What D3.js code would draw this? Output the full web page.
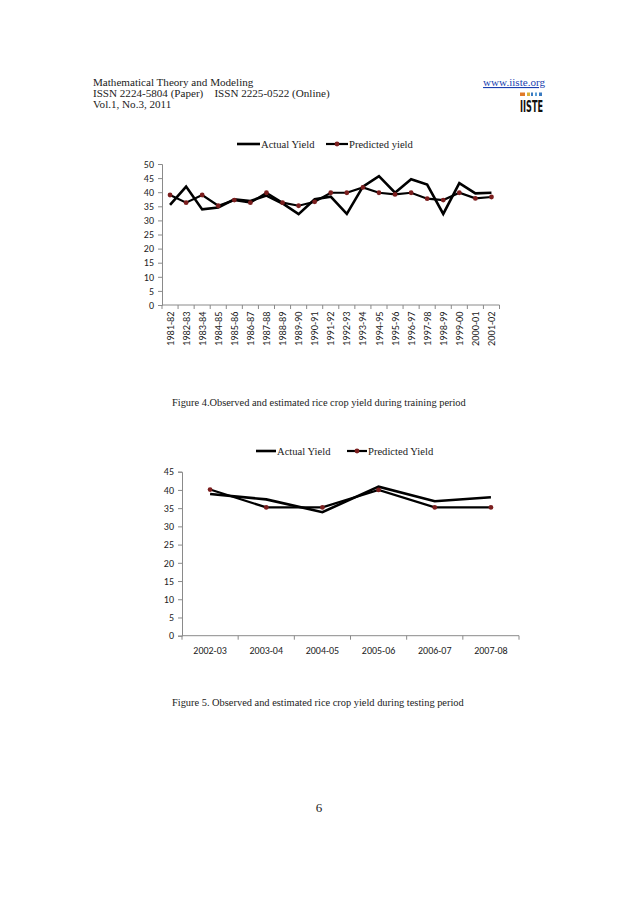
<!DOCTYPE html>
<html><head><meta charset="utf-8">
<script src="https://cdn.jsdelivr.net/npm/d3@7"></script>
<style>body{margin:0;background:#fff}svg{display:block}</style>
</head><body>
<script>
const trainCats = ["1981-82","1982-83","1983-84","1984-85","1985-86","1986-87","1987-88","1988-89","1989-90","1990-91","1991-92","1992-93","1993-94","1994-95","1995-96","1996-97","1997-98","1998-99","1999-00","2000-01","2001-02"];
const trainActual = [35.5,42.0,33.9,34.6,37.5,36.9,38.8,36.0,32.2,37.5,38.4,32.3,42.0,45.7,39.8,44.6,42.7,32.3,43.2,39.6,39.8];
const trainPredicted = [39.0,36.3,39.0,35.2,37.2,36.3,39.8,36.3,35.2,36.6,39.8,39.8,41.7,39.8,39.2,39.8,37.7,37.2,39.8,37.8,38.3];
const trainTicks = [0,5,10,15,20,25,30,35,40,45,50];

const testCats = ["2002-03","2003-04","2004-05","2005-06","2006-07","2007-08"];
const testActual = [38.9,37.4,33.9,40.9,36.9,38.0];
const testPredicted = [40.1,35.2,35.2,40.0,35.2,35.2];
const testTicks = [0,5,10,15,20,25,30,35,40,45];

const W = 638, H = 903;
const svg = d3.select("body").append("svg").attr("width", W).attr("height", H);
const serif = "'Liberation Serif','Times New Roman',serif";
const sans = "Carlito,Lato,'Open Sans',sans-serif";
const markerColor = "#7b1e1e";

// Header
const hdr = ["Mathematical Theory and Modeling","ISSN 2224-5804 (Paper)    ISSN 2225-0522 (Online)","Vol.1, No.3, 2011"];
hdr.forEach((t,i)=>svg.append("text").attr("x",93).attr("y",86+i*11).attr("font-family",serif).attr("font-size",11.1).attr("fill","#222").attr("xml:space","preserve").style("white-space","pre").text(t));
svg.append("text").attr("x",545).attr("y",86).attr("text-anchor","end").attr("font-family",serif).attr("font-size",11.1).attr("fill","#1a3fb0").attr("text-decoration","underline").text("www.iiste.org");
// logo
const logoCols = ["#e07a2a","#d9b23a","#3a7ac0","#5aa0d8","#3a7ac0"];
[[520,5],[527,3],[531,2],[535,2],[539,3]].forEach((d,i)=>svg.append("rect").attr("x",d[0]).attr("y",92.5).attr("width",d[1]).attr("height",3.5).attr("fill",logoCols[i]));
svg.append("text").attr("x",520).attr("y",112).attr("textLength",23).attr("lengthAdjust","spacingAndGlyphs").attr("font-family","'DejaVu Sans Condensed','Liberation Sans Narrow',sans-serif").attr("font-weight","bold").attr("font-size",15).attr("fill","#111").text("IISTE");

function chart(opt){
  const x = d3.scaleBand().domain(opt.cats).range([opt.x0,opt.x1]);
  const y = d3.scaleLinear().domain([0,opt.ymax]).range([opt.y0,opt.y1]);
  const g = svg.append("g");
  const ya = d3.axisLeft(y).tickValues(opt.ticks).tickSize(4).tickPadding(4);
  const gy = g.append("g").attr("transform",`translate(${opt.x0},0)`).call(ya);
  gy.select(".domain").attr("stroke","#8a8a8a");
  gy.selectAll(".tick line").attr("stroke","#8a8a8a");
  gy.selectAll("text").attr("font-family",sans).attr("font-size",opt.fs).attr("fill","#222");
  // x axis
  const gx = g.append("g").attr("transform",`translate(0,${opt.y0})`);
  gx.append("line").attr("x1",opt.x0).attr("x2",opt.x1).attr("stroke","#8a8a8a");
  const bounds = opt.cats.map(c=>x(c)).concat([opt.x1]);
  gx.selectAll("line.tk").data(bounds).enter().append("line").attr("class","tk")
    .attr("x1",d=>d).attr("x2",d=>d).attr("y1",0).attr("y2",4).attr("stroke","#8a8a8a");
  if(opt.rot){
    gx.selectAll("text").data(opt.cats).enter().append("text")
      .attr("transform",c=>`translate(${x(c)+x.bandwidth()/2+3.6},6.5) rotate(-90)`)
      .attr("text-anchor","end").attr("font-family",sans).attr("font-size",opt.fs+0.3).attr("fill","#222").text(c=>c);
  } else {
    gx.selectAll("text").data(opt.cats).enter().append("text")
      .attr("x",c=>x(c)+x.bandwidth()/2).attr("y",18).attr("text-anchor","middle")
      .attr("font-family",sans).attr("font-size",opt.fs).attr("fill","#222").text(c=>c);
  }
  const cx = c=>x(c)+x.bandwidth()/2;
  const line = d3.line().x((d,i)=>cx(opt.cats[i])).y(d=>y(d));
  g.append("path").datum(opt.actual).attr("d",line).attr("fill","none").attr("stroke","#000").attr("stroke-width",2.6).attr("stroke-linejoin","miter");
  g.append("path").datum(opt.pred).attr("d",line).attr("fill","none").attr("stroke","#000").attr("stroke-width",2.2);
  g.selectAll("circle.p").data(opt.pred).enter().append("circle").attr("class","p")
    .attr("cx",(d,i)=>cx(opt.cats[i])).attr("cy",d=>y(d)).attr("r",2.4).attr("fill",markerColor);
  // legend
  const L = opt.leg;
  g.append("line").attr("x1",L.a0).attr("x2",L.a1).attr("y1",L.y).attr("y2",L.y).attr("stroke","#000").attr("stroke-width",2.6);
  g.append("text").attr("x",L.a1+1).attr("y",L.y+3.5).attr("font-family",serif).attr("font-size",10.6).attr("fill","#222").text("Actual Yield");
  g.append("line").attr("x1",L.p0).attr("x2",L.p1).attr("y1",L.y).attr("y2",L.y).attr("stroke","#000").attr("stroke-width",2.2);
  g.append("circle").attr("cx",(L.p0+L.p1)/2).attr("cy",L.y).attr("r",2.4).attr("fill",markerColor);
  g.append("text").attr("x",L.p1+1).attr("y",L.y+3.5).attr("font-family",serif).attr("font-size",10.6).attr("fill","#222").text(L.ptext);
}

chart({cats:trainCats,actual:trainActual,pred:trainPredicted,ticks:trainTicks,ymax:50,
  x0:162,x1:499.5,y0:305,y1:164,fs:10,rot:true,
  leg:{y:144,a0:237,a1:260,p0:326,p1:348,ptext:"Predicted yield"}});
chart({cats:testCats,actual:testActual,pred:testPredicted,ticks:testTicks,ymax:45,
  x0:182,x1:519,y0:635.7,y1:471.7,fs:10,rot:false,
  leg:{y:451,a0:256,a1:276,p0:347,p1:367,ptext:"Predicted Yield"}});

svg.append("text").attr("x",172).attr("y",406).attr("font-family",serif).attr("font-size",10.4).attr("fill","#222").text("Figure 4.Observed and estimated rice crop yield during training period");
svg.append("text").attr("x",172).attr("y",706).attr("font-family",serif).attr("font-size",10.4).attr("fill","#222").text("Figure 5. Observed and estimated rice crop yield during testing period");
svg.append("text").attr("x",319).attr("y",812).attr("text-anchor","middle").attr("font-family",serif).attr("font-size",13).attr("fill","#222").text("6");
</script>
</body></html>
